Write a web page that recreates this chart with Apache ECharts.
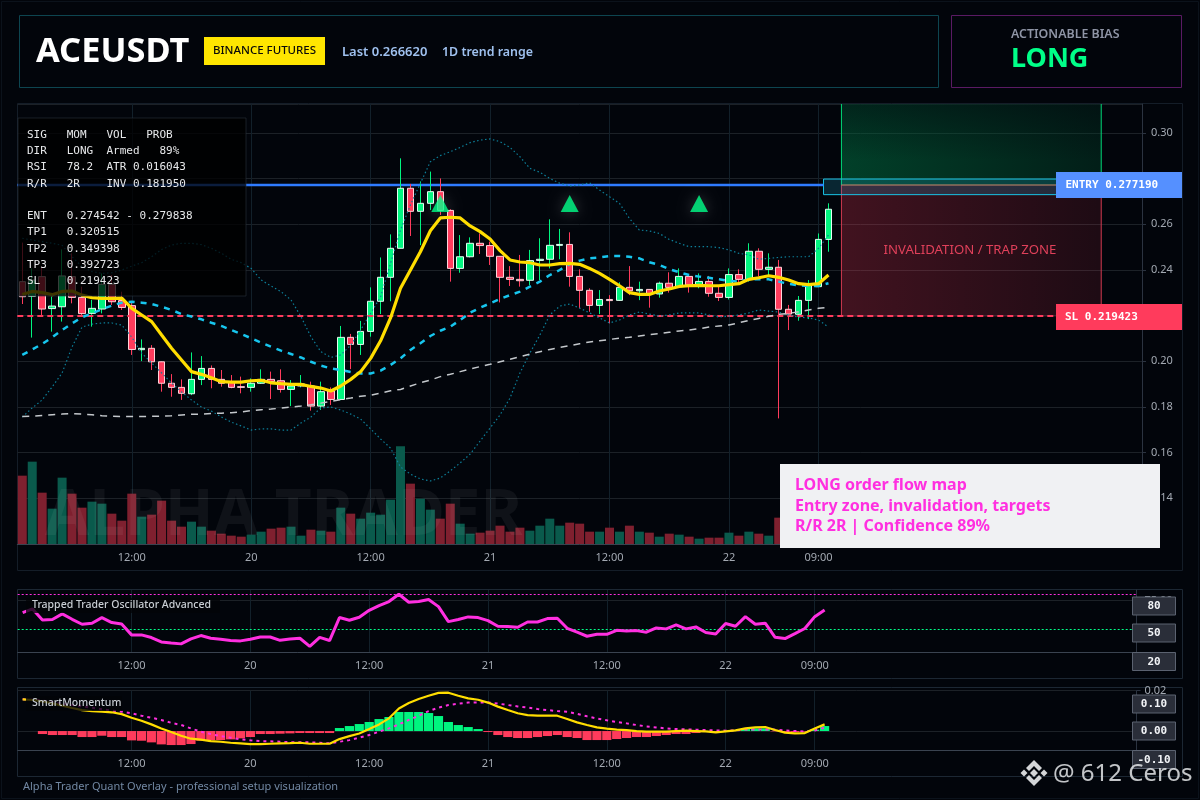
<!DOCTYPE html>
<html><head><meta charset="utf-8">
<style>html,body{margin:0;padding:0;background:#000}#c{width:1200px;height:800px}</style>
<script src="https://cdn.jsdelivr.net/npm/echarts@6/dist/echarts.min.js"></script>
</head><body><div id="c"></div>
<script>
const open=[.2349,.2285,.2371,.2231,.2239,.2371,.2280,.2210,.2229,.2337,.2266,.2244,.2051,.2057,.1998,.1904,.1886,.1858,.1921,.1969,.1921,.1911,.1889,.1886,.1904,.1921,.1915,.1877,.1892,.1892,.1804,.1870,.1833,.2105,.2074,.2131,.2263,.2368,.2495,.2758,.2657,.2692,.2743,.2661,.2407,.2458,.2517,.2507,.2460,.2368,.2359,.2355,.2442,.2447,.2508,.2512,.2372,.2311,.2245,.2271,.2267,.2324,.2309,.2315,.2295,.2342,.2327,.2372,.2333,.2350,.2298,.2280,.2380,.2359,.2482,.2403,.2412,.2228,.2206,.2267,.2327,.2534];
const close=[.2283,.2356,.2229,.2242,.2374,.2280,.2209,.2232,.2337,.2261,.2236,.2052,.2057,.1998,.1904,.1886,.1860,.1921,.1969,.1921,.1904,.1886,.1886,.1904,.1921,.1911,.1877,.1892,.1901,.1804,.1867,.1833,.2105,.2074,.2131,.2263,.2368,.2495,.2758,.2657,.2692,.2743,.2661,.2407,.2458,.2517,.2507,.2460,.2368,.2359,.2353,.2441,.2447,.2508,.2512,.2372,.2311,.2245,.2271,.2266,.2324,.2309,.2315,.2295,.2342,.2324,.2372,.2334,.2350,.2298,.2280,.2380,.2359,.2482,.2403,.2412,.2228,.2207,.2267,.2333,.2534,.2666];
const low=[.2251,.2104,.2203,.2130,.2174,.2254,.2195,.2152,.2210,.2247,.2225,.2028,.2001,.1962,.1867,.1845,.1831,.1852,.1896,.1882,.1889,.1882,.1860,.1867,.1901,.1835,.1863,.1804,.1886,.1784,.1787,.1809,.1830,.1966,.2028,.2108,.2207,.2263,.2495,.2549,.2509,.2663,.2641,.2349,.2388,.2455,.2470,.2422,.2258,.2330,.2327,.2334,.2356,.2407,.2447,.2327,.2232,.2217,.2207,.2166,.2265,.2290,.2268,.2235,.2279,.2301,.2324,.2301,.2320,.2283,.2264,.2271,.2341,.2349,.2371,.2371,.1750,.2137,.2178,.2185,.2326,.2480];
const high=[.2520,.2407,.2415,.2283,.2490,.2473,.2327,.2269,.2385,.2378,.2305,.2261,.2096,.2071,.1999,.1944,.1921,.2039,.2023,.1982,.1962,.1940,.1933,.1925,.1965,.1955,.1965,.1918,.1940,.1911,.1911,.1886,.2155,.2120,.2177,.2324,.2455,.2556,.2889,.2777,.2788,.2831,.2801,.2666,.2553,.2543,.2560,.2524,.2461,.2417,.2466,.2488,.2539,.2622,.2580,.2565,.2403,.2320,.2312,.2290,.2346,.2417,.2349,.2316,.2349,.2390,.2407,.2374,.2385,.2374,.2334,.2407,.2403,.2517,.2495,.2473,.2444,.2247,.2286,.2356,.2560,.2692];
const emaFast=[.2293,.2306,.2301,.2292,.2306,.2308,.2290,.2279,.2276,.2276,.2277,.2232,.2203,.2174,.2115,.2057,.2006,.1955,.1943,.1928,.1911,.1909,.1909,.1915,.1917,.1906,.1902,.1899,.1899,.1890,.1883,.1870,.1892,.1921,.1955,.2013,.2090,.2190,.2320,.2400,.2480,.2572,.2628,.2631,.2628,.2593,.2568,.2536,.2485,.2444,.2435,.2432,.2422,.2422,.2428,.2429,.2425,.2407,.2385,.2359,.2331,.2301,.2293,.2293,.2308,.2317,.2328,.2331,.2333,.2331,.2331,.2336,.2340,.2359,.2366,.2375,.2368,.2356,.2340,.2336,.2340,.2378];
const emaMid=[.2028,.2052,.2076,.2105,.2137,.2166,.2193,.2210,.2228,.2244,.2257,.2261,.2257,.2251,.2239,.2225,.2207,.2196,.2184,.2169,.2155,.2137,.2120,.2101,.2082,.2064,.2047,.2032,.2017,.1998,.1981,.1969,.1962,.1953,.1947,.1947,.1959,.1984,.2013,.2050,.2079,.2111,.2134,.2152,.2181,.2213,.2235,.2254,.2273,.2290,.2305,.2327,.2349,.2378,.2400,.2426,.2441,.2451,.2455,.2461,.2461,.2458,.2451,.2434,.2422,.2404,.2390,.2378,.2371,.2366,.2359,.2353,.2349,.2359,.2359,.2359,.2349,.2339,.2333,.2330,.2330,.2342];
const emaSlow=[.1758,.1760,.1763,.1766,.1769,.1771,.1769,.1766,.1762,.1760,.1758,.1758,.1758,.1759,.1760,.1762,.1765,.1768,.1769,.1772,.1773,.1775,.1778,.1784,.1788,.1791,.1795,.1800,.1804,.1810,.1817,.1825,.1832,.1839,.1847,.1852,.1861,.1871,.1877,.1892,.1906,.1918,.1933,.1943,.1955,.1966,.1977,.1987,.1998,.2009,.2020,.2032,.2042,.2052,.2061,.2069,.2077,.2085,.2090,.2096,.2101,.2105,.2111,.2117,.2121,.2127,.2133,.2137,.2143,.2150,.2155,.2159,.2169,.2179,.2188,.2197,.2206,.2210,.2217,.2225,.2232,.2236];
const bandUpper=[.2539,.2531,.2524,.2517,.2508,.2458,.2415,.2393,.2385,.2388,.2400,.2417,.2432,.2458,.2490,.2509,.2517,.2517,.2511,.2495,.2473,.2447,.2432,.2407,.2356,.2330,.2305,.2269,.2196,.2108,.2042,.2017,.2028,.2071,.2137,.2210,.2283,.2429,.2575,.2685,.2780,.2874,.2901,.2918,.2937,.2958,.2969,.2974,.2962,.2937,.2896,.2845,.2828,.2801,.2780,.2768,.2772,.2782,.2750,.2721,.2692,.2626,.2575,.2571,.2560,.2534,.2517,.2502,.2502,.2502,.2498,.2488,.2473,.2466,.2447,.2451,.2455,.2458,.2458,.2458,.2495,.2553];
const bandLower=[.1756,.1796,.1831,.1888,.1949,.2063,.2150,.2163,.2168,.2168,.2159,.2106,.2036,.1993,.1949,.1905,.1866,.1831,.1800,.1782,.1756,.1734,.1717,.1699,.1704,.1704,.1699,.1699,.1730,.1756,.1796,.1800,.1787,.1769,.1747,.1704,.1660,.1620,.1537,.1506,.1485,.1476,.1489,.1520,.1555,.1594,.1651,.1708,.1765,.1839,.1949,.2036,.2115,.2203,.2242,.2251,.2233,.2212,.2190,.2168,.2181,.2203,.2216,.2207,.2198,.2203,.2212,.2212,.2212,.2203,.2194,.2198,.2203,.2212,.2225,.2220,.2216,.2203,.2194,.2190,.2181,.2150];
const volume=[205,247,154,106,199,151,109,127,121,91,70,151,82,88,130,70,52,67,52,40,31,25,22,28,37,46,49,52,25,43,40,37,109,91,76,94,88,133,293,181,136,103,76,121,61,31,34,40,55,37,49,40,55,76,55,64,61,37,37,49,37,55,37,34,22,31,28,22,16,19,19,34,25,37,31,25,79,30,36,40,55,50];
const oscillator=[64.4,67.6,58.1,58.4,63.3,58.6,54.3,55.2,60.1,55.8,54.6,45.1,45.1,42.8,39,38.1,37.3,41.6,44.5,42.2,41.3,40.2,39.9,41.3,43.3,43.3,40.4,41.6,42.2,35.2,43,40.2,60.1,57.8,60.4,66.4,70.5,74,80.3,73.4,74,75.7,69.6,56.6,58.4,60.7,60.1,57.5,52.6,52.3,51.7,56.3,56.3,59.2,59.5,50.8,47.4,43.9,45.6,45.6,49.1,48.5,48.8,47.4,51.1,50.3,53.7,50.3,52,47.1,45.9,54.9,52.6,60.9,54.3,55.2,43,41.9,46.2,50.6,60.9,66.7];
const momHist=[.00001,.00001,-.00149,-.00198,-.00198,-.00198,-.00298,-.00298,-.00232,-.00298,-.00298,-.00463,-.0048,-.00562,-.00662,-.00695,-.00695,-.00645,-.0048,-.00447,-.00447,-.00414,-.00364,-.00298,-.00149,-.00149,-.00132,-.00116,-.00099,-.00099,-.00099,-.00099,.00149,.00248,.00347,.00447,.00595,.00695,.00943,.00943,.00943,.00893,.00744,.00447,.00298,.00198,.00099,-.0005,-.00198,-.00298,-.00347,-.00347,-.00298,-.00248,-.00198,-.00298,-.00347,-.00447,-.00447,-.00447,-.00397,-.00347,-.00298,-.00298,-.00248,-.00198,-.00149,-.00149,-.00099,-.0005,-.00066,-.00033,.00001,.00099,.00132,.00132,-.00017,-.0005,-.0005,-.00033,.00066,.00248];
const momLine=[.0157,.0154,.0147,.0137,.0126,.0114,.0104,.0098,.0096,.0093,.0084,.0066,.0051,.0033,.0013,-.0005,-.0023,-.0038,-.0043,-.005,-.0053,-.0058,-.0061,-.0065,-.0065,-.0063,-.0061,-.006,-.0058,-.0063,-.0063,-.0063,-.004,-.0025,-.0012,.001,.0033,.0063,.0112,.0139,.0159,.0175,.0189,.019,.0175,.0162,.0155,.0141,.0121,.0104,.0088,.0079,.0076,.0076,.0076,.006,.0043,.003,.0018,.0012,.0007,.0005,0,-.0003,-.0003,-.0003,0,.0002,0,-.0002,-.0007,-.0002,.0003,.0013,.0018,.002,.0005,-.0008,-.0012,-.001,.0013,.0033];
const momSignal=[.0157,.0155,.0151,.0144,.0137,.0129,.0122,.0116,.0108,.0101,.0096,.0088,.0076,.0066,.0055,.0041,.003,.0013,-.0003,-.0015,-.0025,-.0033,-.0041,-.0046,-.005,-.0051,-.0053,-.0055,-.0055,-.0056,-.0058,-.0061,-.0053,-.0045,-.0033,-.002,-.0003,.0013,.0033,.0055,.0076,.0099,.0116,.0129,.0136,.0141,.0142,.0141,.0136,.0129,.0122,.0117,.0109,.0104,.0099,.0096,.0085,.0073,.0062,.0053,.0045,.0038,.003,.0023,.0018,.0013,.001,.0008,.0007,.0005,.0003,.0002,.0003,.0008,.0008,.0008,.0007,.0003,0,-.0002,.0003,.0017];
const tickIndex=[11,23,35,47,59,71,80];
const tickLabels=['12:00','20','12:00','21','12:00','22','09:00'];
const categories=Array.from({length:113},(_,i)=>{const k=tickIndex.indexOf(i);return k>=0?tickLabels[k]:''});
const signalIndex=[42,55,68];
const signalPrice=[.2691,.2691,.2691];
const entryPrice=.27719, stopPrice=.219423, zoneHigh=.279838, zoneLow=.273;
const panelLines=['SIG   MOM   VOL   PROB','DIR   LONG  Armed   89%','RSI   78.2  ATR 0.016043','R/R   2R    INV 0.181950','','ENT   0.274542 - 0.279838','TP1   0.320515','TP2   0.349398','TP3   0.392723','SL    0.219423'];

const UP='#00f57f',DN='#ff3b5c',MONO='"DejaVu Sans Mono",monospace',SANS='"Noto Sans",sans-serif';
const isTick=i=>tickIndex.includes(i);
const grids=[{left:17.3,right:58,top:104,height:440},{left:17.7,right:63.5,top:590,height:62.3},{left:17.7,right:63.5,top:690.7,height:59.3}];
const xAxes=[0,1,2].map(g=>({type:'category',gridIndex:g,data:categories,boundaryGap:true,
  axisLine:{show:true,onZero:false,lineStyle:{color:'#3a4350'}},
  axisTick:{show:false},
  axisLabel:{interval:i=>isTick(i),color:'#a3a9b2',fontFamily:SANS,fontSize:11,margin:8,hideOverlap:false},
  splitLine:{show:true,alignWithLabel:true,interval:i=>isTick(i),lineStyle:{color:'#12202a',width:1}}}));
const rightAxis=(o)=>Object.assign({type:'value',position:'right',axisLine:{show:true,lineStyle:{color:'#2b3340'}},axisTick:{show:true,length:4,lineStyle:{color:'#2b3340'}},
  axisLabel:{color:'#a3a9b2',fontFamily:SANS,fontSize:11,margin:8},splitLine:{show:true,lineStyle:{color:'#1c2127'}}},o);
const yAxes=[
 rightAxis({gridIndex:0,min:.12,max:.3127,interval:.02,axisLabel:{color:'#a3a9b2',fontFamily:SANS,fontSize:11,margin:9,showMaxLabel:false,formatter:v=>v<.13?'':v.toFixed(2)}}),
 {type:'value',gridIndex:0,min:0,max:1320,show:false,splitLine:{show:false}},
 rightAxis({gridIndex:1,min:30,max:84,axisLabel:{color:'#a3a9b2',fontFamily:SANS,fontSize:11,margin:8,customValues:[75],formatter:v=>v.toFixed(2)},axisTick:{show:true,length:4,customValues:[75],lineStyle:{color:'#2b3340'}}}),
 rightAxis({gridIndex:2,min:-.0094,max:.02,axisLabel:{color:'#a3a9b2',fontFamily:SANS,fontSize:11,margin:8,customValues:[.02],formatter:v=>v.toFixed(2)},axisTick:{show:true,length:4,customValues:[0,.02],lineStyle:{color:'#2b3340'}}})
];
const rectEl=(x,y,w,h,style,z)=>({type:'rect',shape:{x,y,width:w,height:h},style,silent:true,z:z==null?0:z});
function txt(x,y,text,o,z){return {type:'text',x,y,silent:true,z:z==null?100:z,style:Object.assign({text,fill:'#fff',font:'12px '+SANS,textAlign:'left',textVerticalAlign:'middle'},o)}}
const frame=(x,y,w,h,c)=>rectEl(x+.5,y+.5,w,h,{fill:'transparent',stroke:c,lineWidth:1});
function zonesRender(params,api){
  const cs=params.coordSys;
  const xL=api.coord([82,entryPrice])[0]+3, xR=api.coord([108,entryPrice])[0]+4;
  const yE=api.coord([82,entryPrice])[1], yS=api.coord([82,stopPrice])[1], yT=cs.y;
  const xB=api.coord([80,entryPrice])[0]+5;
  const yZH=api.coord([82,zoneHigh])[1], yZL=api.coord([82,zoneLow])[1];
  const G=echarts.graphic.LinearGradient;
  const rect=(x,y,w,h,style)=>({type:'rect',shape:{x,y,width:w,height:h},style});
  return {type:'group',children:[
    rect(xL,yT,xR-xL,yE-yT,{fill:new G(0,0,1,0,[{offset:0,color:'rgba(0,200,110,.30)'},{offset:1,color:'rgba(0,200,110,.13)'}])}),
    rect(xL,yT,xR-xL,(yE-yT)*.7,{fill:new G(0,0,0,1,[{offset:0,color:'rgba(2,5,12,.45)'},{offset:1,color:'rgba(2,5,12,0)'}])}),
    rect(xL,yE,xR-xL,yS-yE,{fill:new G(0,0,1,0,[{offset:0,color:'rgba(255,59,92,.25)'},{offset:1,color:'rgba(255,59,92,.11)'}])}),
    rect(xL-.5,yT,1,yE-yT,{fill:'#00d877'}),rect(xR-.5,yT,1,yE-yT,{fill:'#00d877'}),
    rect(xL-.5,yE,1,yS-yE,{fill:'#d13a50'}),rect(xR-.5,yE,1,yS-yE,{fill:'#d13a50'}),
    rect(xB,yZH,xR-xB,yZL-yZH,{fill:'rgba(40,170,210,.2)',stroke:'#19c3e6',lineWidth:1}),
    rect(xL,yE-.5,xR-xL,1,{fill:'#c98a6a'}),
    rect(cs.x,yE-1.25,xB-cs.x,2.5,{fill:'#2f7bff'})
  ]};
}
const lineS=(name,data,xi,yi,style,z)=>({name,type:'line',xAxisIndex:xi,yAxisIndex:yi,data,symbol:'none',lineStyle:style,z:z||5,silent:true,animation:false});
const series=[
 {name:'zones',type:'custom',xAxisIndex:0,yAxisIndex:0,data:[[82,entryPrice]],encode:{x:0,y:1},renderItem:zonesRender,z:1,silent:true,clip:false},
 {name:'Volume',type:'bar',xAxisIndex:0,yAxisIndex:1,barWidth:9,z:1,silent:true,
   data:volume.map((v,i)=>({value:v,itemStyle:{color:close[i]>=open[i]?'#0a5a4c':'#7f202f'}}))},
 {name:'Wicks',type:'candlestick',xAxisIndex:0,yAxisIndex:0,barWidth:1,z:3,silent:true,
   data:open.map((o,i)=>[o,close[i],low[i],high[i]]),
   itemStyle:{color:UP,color0:DN,borderColor:UP,borderColor0:DN,borderColorDoji:UP,borderWidth:1}},
 {name:'Bodies',type:'candlestick',xAxisIndex:0,yAxisIndex:0,barWidth:7,z:4,silent:true,
   data:open.map((o,i)=>[o,close[i],Math.min(o,close[i]),Math.max(o,close[i])]),
   itemStyle:{color:UP,color0:DN,borderColor:'#e4fff2',borderColor0:'#ffd3da',borderColorDoji:'#f2f2f2',borderWidth:1}},
 lineS('Upper',bandUpper,0,0,{color:'#0d7f99',width:1.2,type:[1.5,2.5]}),
 lineS('Lower',bandLower,0,0,{color:'#0d7f99',width:1.2,type:[1.5,2.5]}),
 lineS('Slow',emaSlow,0,0,{color:'#c4c8cc',width:1.5,type:[7,6]}),
 lineS('Mid',emaMid,0,0,{color:'#17c6ee',width:2.5,type:[6,6]}),
 lineS('Fast',emaFast,0,0,{color:'#ffdd00',width:3.2},6),
 {name:'Signals',type:'scatter',xAxisIndex:0,yAxisIndex:0,symbol:'triangle',symbolSize:[18,17],z:7,silent:true,
   data:signalIndex.map((x,i)=>[x,signalPrice[i]]),
   itemStyle:{color:'#00ff88',shadowBlur:14,shadowColor:'rgba(255,255,255,.28)'}},
 {name:'SLline',type:'line',xAxisIndex:0,yAxisIndex:0,data:[],symbol:'none',z:5,silent:true,
   markLine:{silent:true,symbol:'none',animation:false,label:{show:false},lineStyle:{color:'#ff3b5c',width:2,type:[6,4]},data:[{yAxis:stopPrice}]}},
 Object.assign(lineS('Osc',oscillator,1,2,{color:'#ff2fe0',width:3},5),{
   markLine:{silent:true,symbol:'none',animation:false,label:{show:false},data:[
     {yAxis:80,lineStyle:{color:'#ff2fe0',width:1,type:[2,2]}},{yAxis:50,lineStyle:{color:'#00ff88',width:1,type:[2,2]}}]}}),
 {name:'Hist',type:'bar',xAxisIndex:2,yAxisIndex:3,barWidth:9.2,z:3,silent:true,
   data:momHist.map(v=>({value:v,itemStyle:{color:v>=0?UP:DN}}))},
 lineS('MomLine',momLine,2,3,{color:'#ffdd00',width:2.2},6),
 lineS('MomSig',momSignal,2,3,{color:'#ff2fe0',width:2,type:[3,4]},5),
];
const logoPts=[
 [[1034,769],[1038,773],[1034,777],[1030,773]],
 [[1024,769.5],[1027.5,773],[1024,776.5],[1020.5,773]],
 [[1044,769.5],[1047.5,773],[1044,776.5],[1040.5,773]],
 [[1034,760],[1042,768],[1039,771],[1034,766],[1029,771],[1026,768]],
 [[1034,786],[1042,778],[1039,775],[1034,780],[1029,775],[1026,778]]];
const boxLabel=(y,h,t)=>[rectEl(1132.5,y,43,h,{fill:'#2a2e39',stroke:'#5b6270',lineWidth:1},100),
  txt(1154,y+h/2+.5,t,{font:'bold 11px '+MONO,fill:'#f2f4f7',textAlign:'center'},101)];
const graphic=[
 frame(1,1,1197,797,'#0b121b'),
 frame(19,15,919,72,'#0d4550'),
 frame(951,15,230,72,'#5a1a63'),
 frame(17,103,1165,467,'#141d28'),
 frame(17,589,1165,89,'#1c2733'),
 frame(17,687,1165,89,'#1c2733'),
 txt(36,52,'ACEUSDT',{font:'bold 34.4px '+SANS,fill:'#fff',shadowBlur:18,shadowColor:'rgba(60,200,220,.45)'}),
 rectEl(204,37,121,28,{fill:'#ffe600'},100),
 txt(264.5,51,'BINANCE FUTURES',{font:'500 11.5px '+SANS,fill:'#0a0a0a',textAlign:'center'}),
 txt(342,52,'Last 0.266620',{font:'600 13px '+SANS,fill:'#9fc1ef'}),
 txt(442,52,'1D trend range',{font:'600 12.4px '+SANS,fill:'#9fc1ef'}),
 txt(1011,34,'ACTIONABLE BIAS',{font:'600 12.4px '+SANS,fill:'#8f95a6'}),
 txt(1011,59,'LONG',{font:'bold 27px '+SANS,fill:'#00ff88',shadowBlur:16,shadowColor:'rgba(0,255,136,.55)'}),
 rectEl(18,118,228,178,{fill:'rgba(0,0,0,.76)',stroke:'rgba(40,50,60,.6)',lineWidth:1},90),
 {type:'text',x:27,y:127,silent:true,z:100,style:{text:panelLines.join('\n'),font:'11px '+MONO,fill:'#e6e8ea',lineHeight:16.25,textAlign:'left',textVerticalAlign:'top'}},
 txt(45,517,'ALPHA TRADER',{font:'bold 64px '+SANS,fill:'rgba(255,255,255,.055)'},8),
 txt(970,250,'INVALIDATION / TRAP ZONE',{font:'13.2px '+SANS,fill:'#e0405a',textAlign:'center'},20),
 rectEl(1056,172,126,26,{fill:'#5590ff'},100),
 txt(1065.5,185,'ENTRY 0.277190',{font:'bold 11px '+MONO,fill:'#fff'},101),
 rectEl(1056,304,126,26,{fill:'#ff3b5c'},100),
 txt(1065,317,'SL 0.219423',{font:'bold 11px '+MONO,fill:'#fff'},101),
 rectEl(780,464,380,84,{fill:'#f0f1f3'},100),
 txt(795,485.5,'LONG order flow map',{font:'bold 16px '+SANS,fill:'#ff2fe0'},101),
 txt(795,506.5,'Entry zone, invalidation, targets',{font:'bold 16px '+SANS,fill:'#ff2fe0'},101),
 txt(795,526.5,'R/R 2R | Confidence 89%',{font:'bold 16px '+SANS,fill:'#ff2fe0'},101),
 ...boxLabel(597,18,'80'),...boxLabel(624,18,'50'),...boxLabel(652.5,18,'20'),
 ...boxLabel(695,18,'0.10'),...boxLabel(722,18,'0.00'),...boxLabel(750.5,18,'-0.10'),
 rectEl(26,598,194,15,{fill:'rgba(2,4,8,.78)'},90),
 txt(32,605,'Trapped Trader Oscillator Advanced',{font:'500 10.5px '+SANS,fill:'#c9ced4'}),
 rectEl(26,696,96,15,{fill:'rgba(2,4,8,.78)'},90),
 txt(32,703,'SmartMomentum',{font:'500 10.5px '+SANS,fill:'#c9ced4'}),
 txt(23,787,'Alpha Trader Quant Overlay - professional setup visualization',{font:'11px '+SANS,fill:'#7288a3'}),
 ...logoPts.map(p=>({type:'polygon',shape:{points:p},style:{fill:'#d4d6d8'},silent:true,z:110})),
 txt(1053,774,'@ 612 Ceros',{font:'24px "Noto Sans",sans-serif',fill:'rgba(222,224,226,.88)'},110)
];
const chart=echarts.init(document.getElementById('c'),null,{renderer:'canvas'});
chart.setOption({animation:false,backgroundColor:'#02050b',grid:grids,xAxis:xAxes,yAxis:yAxes,series,graphic:{elements:graphic},tooltip:{show:false},legend:{show:false}});
</script></body></html>
